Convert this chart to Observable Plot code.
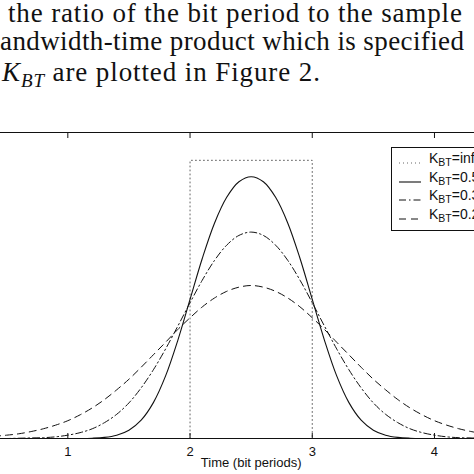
<!DOCTYPE html>
<html>
<head>
<meta charset="utf-8">
<script src="https://cdn.jsdelivr.net/npm/d3@7"></script>
<script src="https://cdn.jsdelivr.net/npm/@observablehq/plot@0.6"></script>
<style>
  html, body { margin: 0; padding: 0; background: white; }
  #wrap { position: relative; width: 474px; height: 474px; overflow: hidden; background: white; }
  .tx { position: absolute; font-family: "Liberation Serif", "Times New Roman", serif; font-size: 27px; line-height: 22px; color: #111; white-space: nowrap; }
  .tx i { font-style: italic; }
  .tx sub { font-size: 19px; font-style: italic; vertical-align: -6px; line-height: 0; }
  #chart { position: absolute; left: 0; top: 120px; }
  #legend { position: absolute; left: 391px; top: 147px; width: 200px; height: 82px; border: 1px solid #111; background: white;
            font-family: "Liberation Sans", Arial, sans-serif; font-size: 14px; color: #111; }
  .row { position: absolute; left: 0; width: 190px; height: 18px; white-space: nowrap; }
  .row svg { position: absolute; left: 6px; top: 0; }
  .row span { position: absolute; left: 37px; top: -1px; }
  .row sub { font-size: 10.5px; vertical-align: -3px; line-height: 0; }
</style>
</head>
<body>
<div id="wrap">
  <div class="tx" style="top:2px; left:8px; letter-spacing:0.85px;">the ratio of the bit period to the sample</div>
  <div class="tx" style="top:30px; left:0px; letter-spacing:0.4px;">andwidth-time product which is specified</div>
  <div class="tx" style="top:61px; left:2px; letter-spacing:0.9px;"><i>K</i><sub>BT</sub> are plotted in Figure 2.</div>
  <div id="chart"></div>
  <div id="legend"></div>
</div>
<script>
// ---- data ----
const timeGrid = [0.0,0.1,0.2,0.3,0.4,0.5,0.6,0.7,0.8,0.9,1.0,1.1,1.2,1.3,1.4,1.5,1.6,1.7,1.8,1.9,2.0,2.1,2.2,2.3,2.4,2.5,
                  2.6,2.7,2.8,2.9,3.0,3.1,3.2,3.3,3.4,3.5,3.6,3.7,3.8,3.9,4.0,4.1,4.2,4.3,4.4,4.5,4.6,4.7,4.8,4.9,5.0];
const pulseBT05 = [0,0,0,0,0,0,0,0,0,0,0.000,0.000,0.001,0.004,0.012,0.030,0.066,0.129,0.225,0.353,0.500,0.647,0.774,0.867,0.923,0.941,
                   0.923,0.867,0.774,0.647,0.500,0.353,0.225,0.129,0.066,0.030,0.012,0.004,0.001,0.000,0.000,0,0,0,0,0,0,0,0,0,0];
const pulseBT03 = [0,0,0,0,0,0.000,0.001,0.002,0.003,0.006,0.012,0.021,0.035,0.057,0.087,0.128,0.182,0.247,0.322,0.404,0.488,0.569,0.640,0.695,0.730,0.742,
                   0.730,0.695,0.640,0.569,0.488,0.404,0.322,0.247,0.182,0.128,0.087,0.057,0.035,0.021,0.012,0.006,0.003,0.002,0.001,0.000,0,0,0,0,0];
const pulseBT02 = [0.001,0.002,0.003,0.005,0.008,0.012,0.017,0.025,0.035,0.048,0.064,0.085,0.110,0.140,0.175,0.213,0.256,0.301,0.346,0.392,0.434,0.473,0.505,0.529,0.544,0.550,
                   0.544,0.529,0.505,0.473,0.434,0.392,0.346,0.301,0.256,0.213,0.175,0.140,0.110,0.085,0.064,0.048,0.035,0.025,0.017,0.012,0.008,0.005,0.003,0.002,0.001];
const rectTime = [0, 2, 2, 3, 3, 5];
const rectValue = [0, 0, 1, 1, 0, 0];
const seriesLabels = ["inf", "0.5", "0.3", "0.2"];
const xTicks = [1, 2, 3, 4];
const xDomain = [0, 5];
const yDomain = [0, 1.1];
const xLabel = "Time (bit periods)";

// ---- styles ----
const styles = [
  {dash: "1,3", color: "#666", width: 1},
  {dash: null, color: "#111", width: 1.1},
  {dash: "7,3,1.5,3", color: "#111", width: 1},
  {dash: "7,5", color: "#111", width: 1}
];

const toRows = (xs, ys) => xs.map((x, i) => ({x, y: ys[i]}));
const seriesData = [
  toRows(rectTime, rectValue),
  toRows(timeGrid, pulseBT05),
  toRows(timeGrid, pulseBT03),
  toRows(timeGrid, pulseBT02)
];

const W = 474, H = 354;
const plot = Plot.plot({
  width: W,
  height: H,
  marginTop: 12,
  marginBottom: 36,
  marginLeft: -54.9,
  marginRight: -82.2,
  style: {fontFamily: "'Liberation Sans', Arial, sans-serif", fontSize: "13px", overflow: "hidden", background: "white", color: "#111"},
  x: {domain: xDomain},
  y: {domain: yDomain, axis: null},
  marks: [
    ...seriesData.map((d, i) => Plot.line(d, {
      x: "x", y: "y",
      curve: i === 0 ? "linear" : "catmull-rom",
      stroke: styles[i].color,
      strokeWidth: styles[i].width,
      strokeDasharray: styles[i].dash,
      clip: true
    })),
    Plot.frame({stroke: "#111", strokeWidth: 1}),
    Plot.axisX({anchor: "bottom", ticks: xTicks, tickSize: -5, tickPadding: 13, tickFormat: d => String(d), label: null, stroke: "#111"}),
    Plot.axisX({anchor: "top", ticks: xTicks, tickSize: -5, tickFormat: () => "", label: null, stroke: "#111"}),
    Plot.text([xLabel], {x: [d3.mean(xDomain)], frameAnchor: "bottom", dy: 28, text: d => d, fontSize: 13, fill: "#111"})
  ]
});
document.getElementById("chart").appendChild(plot);

// ---- legend ----
const legend = document.getElementById("legend");
seriesLabels.forEach((lab, i) => {
  const row = document.createElement("div");
  row.className = "row";
  row.style.top = (3 + i * 18.7) + "px";
  const s = styles[i];
  row.innerHTML = `<svg width="24" height="18"><line x1="1" x2="23" y1="12" y2="12" stroke="${s.color}" stroke-width="${s.width}" ${s.dash ? `stroke-dasharray="${s.dash}"` : ""}/></svg><span>K<sub>BT</sub>=${lab}</span>`;
  legend.appendChild(row);
});
</script>
</body>
</html>
